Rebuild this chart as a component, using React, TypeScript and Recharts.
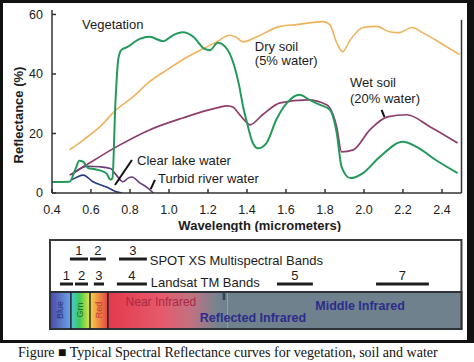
import {
  ComposedChart,
  Line,
  XAxis,
  YAxis,
  ReferenceLine,
  ReferenceDot,
  ReferenceArea,
} from 'recharts';

// wavelength (micrometers) / reflectance (%)
const vegWl = [0.4, 0.49, 0.52, 0.54, 0.56, 0.585, 0.62, 0.65, 0.68, 0.7, 0.71, 0.725, 0.74, 0.755, 0.785, 0.85, 0.9, 0.97, 1.02, 1.07, 1.125, 1.18, 1.21, 1.25, 1.29, 1.33, 1.36, 1.38, 1.4, 1.43, 1.456, 1.5, 1.55, 1.605, 1.67, 1.72, 1.775, 1.825, 1.86, 1.885, 1.93, 1.995, 2.08, 2.2, 2.27, 2.37, 2.48];
const vegRefl = [3.7, 3.8, 8, 10.8, 10.5, 8.4, 8, 7.5, 6.5, 4.5, 5, 30, 45, 48, 49, 51.8, 52.5, 51, 53, 54, 52.5, 48.5, 48, 50.5, 49, 43.7, 36, 29, 23.6, 16.8, 15, 16.8, 24.6, 30.3, 33, 31.3, 29.6, 28, 20.2, 8.8, 5, 6.7, 12.1, 17.2, 15.5, 11, 6.7];

const drySoilWl = [0.49, 0.56, 0.645, 0.73, 0.815, 0.9, 0.99, 1.07, 1.16, 1.245, 1.31, 1.34, 1.38, 1.45, 1.57, 1.655, 1.79, 1.825, 1.86, 1.89, 1.93, 1.995, 2.065, 2.13, 2.18, 2.246, 2.3, 2.39, 2.49];
const drySoilRefl = [14.5, 17.8, 22.2, 28, 32.3, 37.4, 41.4, 44.8, 48, 50.8, 53, 52.5, 50.8, 52.5, 56, 56.6, 57.6, 56.6, 50.5, 47.5, 51.5, 55.6, 56, 54.2, 53.9, 55.6, 53.9, 50.5, 46.5];

const wetSoilWl = [0.49, 0.56, 0.73, 0.9, 1.07, 1.245, 1.3, 1.33, 1.35, 1.4, 1.415, 1.48, 1.57, 1.71, 1.81, 1.86, 1.885, 1.945, 2.03, 2.12, 2.22, 2.34, 2.48];
const wetSoilRefl = [6, 8.8, 15.5, 21.2, 25.2, 28.6, 29.3, 28.8, 27.3, 23.6, 22.9, 26.3, 30.3, 31.3, 29.6, 22.2, 13.8, 14.5, 21.2, 25.6, 26.3, 22.2, 16.8];

const lakeWl = [0.5, 0.53, 0.56, 0.61, 0.68, 0.73, 0.76];
const lakeRefl = [4.4, 5.4, 6, 3.8, 2, 0.4, 0];

const riverWl = [0.5, 0.54, 0.58, 0.645, 0.7, 0.73, 0.764, 0.79, 0.81, 0.85, 0.885, 0.92];
const riverRefl = [6, 8, 9, 8.8, 8.2, 6, 3.8, 5, 5.4, 3.4, 2, 0];

const xTicks = [0.4, 0.6, 0.8, 1.0, 1.2, 1.4, 1.6, 1.8, 2.0, 2.2, 2.4];
const yTicks = [0, 20, 40, 60];

const curveNotes = [
  { text: 'Vegetation', wl: 0.554, refl: 56.8 },
  { text: 'Dry soil', wl: 1.44, refl: 49.2 },
  { text: '(5% water)', wl: 1.44, refl: 44.5 },
  { text: 'Wet soil', wl: 1.928, refl: 37.3 },
  { text: '(20% water)', wl: 1.928, refl: 31.9 },
  { text: 'Clear lake water', wl: 0.836, refl: 10.8 },
  { text: 'Turbid river water', wl: 0.944, refl: 5.0 },
];
const pointers = [
  { from: [0.81, 11.1], to: [0.723, 2.7] },
  { from: [0.928, 4.4], to: [0.906, 1.3] },
  { from: [2.09, 27.9], to: [2.105, 25.6] },
];

// satellite bands (micrometers)
const spotBands = [
  { name: '1', start: 0.492, end: 0.585 },
  { name: '2', start: 0.595, end: 0.677 },
  { name: '3', start: 0.744, end: 0.887 },
];
const landsatBands = [
  { name: '1', start: 0.441, end: 0.508 },
  { name: '2', start: 0.518, end: 0.585 },
  { name: '3', start: 0.615, end: 0.667 },
  { name: '4', start: 0.733, end: 0.887 },
  { name: '5', start: 1.554, end: 1.738 },
  { name: '7', start: 2.062, end: 2.333 },
];
const regions = [
  { id: 'blue', start: 0.39, end: 0.497 },
  { id: 'grn', start: 0.497, end: 0.595 },
  { id: 'red', start: 0.595, end: 0.687 },
  { id: 'nir', start: 0.687, end: 1.3 },
  { id: 'mir', start: 1.3, end: 2.5 },
];

const zip = (wl: number[], v: number[]) => wl.map((x, i) => ({ x, y: v[i] }));

const series = [
  { name: 'Dry soil', data: zip(drySoilWl, drySoilRefl), color: '#f0b25c', width: 1.6 },
  { name: 'Wet soil', data: zip(wetSoilWl, wetSoilRefl), color: '#8e3c6c', width: 1.7 },
  { name: 'Clear lake water', data: zip(lakeWl, lakeRefl), color: '#263a82', width: 1.6 },
  { name: 'Turbid river water', data: zip(riverWl, riverRefl), color: '#6a3c7c', width: 1.6 },
  { name: 'Vegetation', data: zip(vegWl, vegRefl), color: '#23995a', width: 2 },
];

const ink = '#1c1c1c';
const font = '"Liberation Sans", Arial, sans-serif';

function SpectrumChart() {
  return (
    <ComposedChart width={474} height={232} margin={{ top: 10, right: 12.5, bottom: 0, left: 0 }}>
      <XAxis
        type="number"
        dataKey="x"
        domain={[0.4, 2.5]}
        ticks={xTicks}
        tickFormatter={(v: number) => v.toFixed(1)}
        tick={{ fill: ink, fontSize: 12.5 }}
        tickSize={-4}
        tickMargin={16.5}
        height={39}
        stroke="#333"
        strokeWidth={1.5}
        allowDataOverflow
        label={{ value: 'Wavelength (micrometers)', position: 'insideBottom', offset: 2, dx: 3, fill: ink, fontSize: 13, fontWeight: 700 }}
      />
      <YAxis
        type="number"
        domain={[0, 61.5]}
        ticks={yTicks}
        tick={{ fill: ink, fontSize: 12.5 }}
        tickSize={-4}
        tickMargin={13}
        width={52}
        stroke="#333"
        strokeWidth={1.5}
        allowDataOverflow
        label={{ value: 'Reflectance (%)', position: 'center', angle: -90, dx: -7.5, dy: 13.5, fill: ink, fontSize: 13, fontWeight: 700 }}
      />
      <ReferenceLine segment={[{ x: 2.5, y: 0 }, { x: 2.5, y: 58.2 }]} stroke="#333" strokeWidth={1.5} />
      {series.map((s) => (
        <Line
          key={s.name}
          data={s.data}
          dataKey="y"
          type="monotone"
          stroke={s.color}
          strokeWidth={s.width}
          dot={false}
          isAnimationActive={false}
        />
      ))}
      {pointers.map((p, i) => (
        <ReferenceLine
          key={i}
          segment={[{ x: p.from[0], y: p.from[1] }, { x: p.to[0], y: p.to[1] }]}
          stroke="#111"
          strokeWidth={2}
        />
      ))}
      {curveNotes.map((n) => (
        <ReferenceDot
          key={n.text}
          x={n.wl}
          y={n.refl}
          r={0}
          stroke="none"
          fill="none"
          label={{ value: n.text, position: 'right', offset: 0, fill: ink, fontSize: 13 }}
        />
      ))}
    </ComposedChart>
  );
}

const regionFill: Record<string, string> = {
  blue: 'url(#gBlue)',
  grn: 'url(#gGrn)',
  red: 'url(#gRed)',
  nir: 'url(#gNir)',
  mir: '#6f818d',
};

function BandsChart() {
  return (
    <ComposedChart width={474} height={110} margin={{ top: 10, right: 12.55, bottom: 11, left: 50 }}>
      <defs>
        <linearGradient id="gBlue" x1="0" y1="0" x2="1" y2="0">
          <stop offset="0" stopColor="#4a48a8" />
          <stop offset="1" stopColor="#6aa6e6" />
        </linearGradient>
        <linearGradient id="gGrn" x1="0" y1="0" x2="1" y2="0">
          <stop offset="0" stopColor="#4cc6e0" />
          <stop offset="0.45" stopColor="#3ccc58" />
          <stop offset="1" stopColor="#e6e440" />
        </linearGradient>
        <linearGradient id="gRed" x1="0" y1="0" x2="1" y2="0">
          <stop offset="0" stopColor="#f2d64a" />
          <stop offset="0.5" stopColor="#f08a44" />
          <stop offset="1" stopColor="#e24444" />
        </linearGradient>
        <linearGradient id="gNir" x1="0" y1="0" x2="1" y2="0">
          <stop offset="0" stopColor="#e23a4c" />
          <stop offset="0.45" stopColor="#e65a6c" />
          <stop offset="0.7" stopColor="#c07282" />
          <stop offset="0.92" stopColor="#75838f" />
          <stop offset="1" stopColor="#6f818d" />
        </linearGradient>
      </defs>
      <XAxis type="number" dataKey="x" domain={[0.39, 2.5]} hide allowDataOverflow />
      <YAxis type="number" domain={[0, 89]} hide allowDataOverflow />
      <ReferenceArea x1={0.39} x2={2.5} y1={0} y2={89} fill="#fff" fillOpacity={1} stroke="#3a3a3a" strokeWidth={2} />
      {regions.map((r) => (
        <ReferenceArea key={r.id} x1={r.start} x2={r.end} y1={0} y2={37} fill={regionFill[r.id]} fillOpacity={1} stroke="none" />
      ))}
      <ReferenceArea x1={0.39} x2={2.5} y1={0} y2={37} fill="none" stroke="#2e3236" strokeWidth={2} />
      {regions.slice(1, 4).map((r) => (
        <ReferenceLine key={r.id} segment={[{ x: r.start, y: 0 }, { x: r.start, y: 37 }]} stroke="#222" strokeWidth={1.5} />
      ))}
      <ReferenceLine segment={[{ x: 1.282, y: 37 }, { x: 1.282, y: 29 }]} stroke="#34434e" strokeWidth={2.5} />
      {spotBands.map((b) => (
        <ReferenceLine
          key={'s' + b.name}
          segment={[{ x: b.start, y: 70 }, { x: b.end, y: 70 }]}
          stroke="#1e1e1e"
          strokeWidth={3}
          label={{ value: b.name, position: 'top', offset: 4, fill: ink, fontSize: 13 }}
        />
      ))}
      {landsatBands.map((b) => (
        <ReferenceLine
          key={'l' + b.name}
          segment={[{ x: b.start, y: 45 }, { x: b.end, y: 45 }]}
          stroke="#1e1e1e"
          strokeWidth={3}
          label={{ value: b.name, position: 'top', offset: 4, fill: ink, fontSize: 13 }}
        />
      ))}
      <ReferenceDot x={0.9015} y={69} r={0} stroke="none" fill="none"
        label={{ value: 'SPOT XS Multispectral Bands', position: 'right', offset: 0, fill: ink, fontSize: 13 }} />
      <ReferenceDot x={0.907} y={47} r={0} stroke="none" fill="none"
        label={{ value: 'Landsat TM Bands', position: 'right', offset: 0, fill: ink, fontSize: 13 }} />
      <ReferenceDot x={0.441} y={19} r={0} stroke="none" fill="none"
        label={{ value: 'Blue', position: 'center', angle: -90, fill: '#2c2a7a', fontSize: 9 }} />
      <ReferenceDot x={0.544} y={19} r={0} stroke="none" fill="none"
        label={{ value: 'Grn', position: 'center', angle: -90, fill: '#2d6a2a', fontSize: 9 }} />
      <ReferenceDot x={0.641} y={19} r={0} stroke="none" fill="none"
        label={{ value: 'Red', position: 'center', angle: -90, fill: '#c43a3a', fontSize: 9 }} />
      <ReferenceDot x={0.959} y={27} r={0} stroke="none" fill="none"
        label={{ value: 'Near Infrared', position: 'center', fill: '#a82a40', fontSize: 12 }} />
      <ReferenceDot x={1.431} y={11} r={0} stroke="none" fill="none"
        label={{ value: 'Reflected Infrared', position: 'center', fill: '#2c2c8c', fontSize: 12.5, fontWeight: 700 }} />
      <ReferenceDot x={1.98} y={23} r={0} stroke="none" fill="none"
        label={{ value: 'Middle Infrared', position: 'center', fill: '#2c2c8c', fontSize: 12.5, fontWeight: 700 }} />
    </ComposedChart>
  );
}

export default function App() {
  return (
    <div style={{ position: 'fixed', left: 0, top: 0, width: 474, height: 362, background: '#fff', overflow: 'hidden', fontFamily: font }}>
      <div
        style={{
          position: 'absolute',
          left: 0,
          top: 0,
          width: 474,
          height: 343,
          boxSizing: 'border-box',
          borderStyle: 'solid',
          borderColor: '#111',
          borderWidth: '3px 7px 3px 3px',
        }}
      />
      <div style={{ position: 'absolute', left: 0, top: 0 }}>
        <SpectrumChart />
      </div>
      <div style={{ position: 'absolute', left: 0, top: 230 }}>
        <BandsChart />
      </div>
      <div
        style={{
          position: 'absolute',
          left: 18,
          top: 345,
          fontFamily: '"Liberation Serif", "Times New Roman", serif',
          fontSize: 14,
          lineHeight: '16px',
          whiteSpace: 'nowrap',
          color: '#111',
        }}
      >
        Figure ■ Typical Spectral Reflectance curves for vegetation, soil and water
      </div>
    </div>
  );
}
